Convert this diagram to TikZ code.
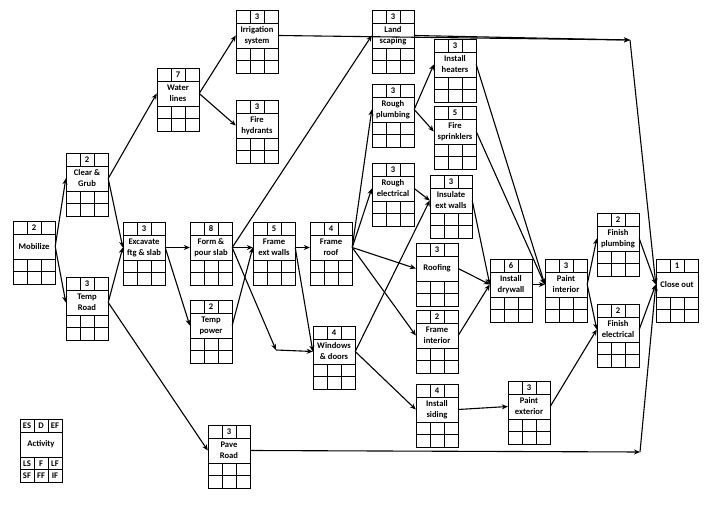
\documentclass[tikz,border=0pt]{standalone}
\usepackage{fontspec}
\setmainfont{Carlito}
\usetikzlibrary{arrows.meta}
\tikzset{x=1pt,y=-1pt,
 lab/.style={inner sep=0pt,minimum width=42pt,minimum height=25pt,align=center,font=\bfseries\fontsize{8.6}{11}\selectfont},
 cell/.style={font=\bfseries\fontsize{8.6}{10}\selectfont,inner sep=0pt},
 grid/.style={line width=0.9pt},
 con/.style={line width=1.1pt,-{Stealth[length=6pt,width=5pt]}},
 seg/.style={line width=1.1pt}}
\newcommand\actv[5]{%
 \draw[grid] (#2,#3) rectangle ++(42,63);
 \draw[grid] (#2,#3+13) -- ++(42,0) (#2,#3+38) -- ++(42,0) (#2,#3+50.5) -- ++(42,0);
 \draw[grid] (#2+14,#3) -- ++(0,13) (#2+28,#3) -- ++(0,13) (#2+14,#3+38) -- ++(0,25) (#2+28,#3+38) -- ++(0,25);
 \node[cell] at (#2+21,#3+6.5) {#4};
 \node[lab] (#1) at (#2+21,#3+25.5) {#5};}
\begin{document}
\begin{tikzpicture}
\useasboundingbox (0,0) rectangle (704,510);
\actv{mob}{13}{221}{2}{Mobilize}
\actv{clr}{66}{153}{2}{Clear \&\\Grub}
\actv{trd}{66}{277}{3}{Temp\\Road}
\actv{exc}{123}{222}{3}{Excavate\\ftg \& slab}
\actv{frm}{190}{222}{8}{Form \&\\pour slab}
\actv{tpw}{190}{300}{2}{Temp\\power}
\actv{wat}{157}{68}{7}{Water\\lines}
\actv{irr}{236}{10}{3}{Irrigation\\system}
\actv{hyd}{236}{100}{3}{Fire\\hydrants}
\actv{few}{253}{222}{5}{Frame\\ext walls}
\actv{frf}{310}{222}{4}{Frame\\roof}
\actv{win}{313}{326}{4}{Windows\\\& doors}
\actv{lnd}{372}{10}{3}{Land\\scaping}
\actv{rpl}{372}{84}{3}{Rough\\plumbing}
\actv{rel}{372}{163}{3}{Rough\\electrical}
\actv{hea}{434}{39}{3}{Install\\heaters}
\actv{spr}{434}{106}{5}{Fire\\sprinklers}
\actv{ins}{430}{175}{3}{Insulate\\ext walls}
\actv{rfg}{416}{243}{3}{Roofing}
\actv{fin}{416}{310}{2}{Frame\\interior}
\actv{sid}{416}{384}{4}{Install\\siding}
\actv{dry}{490}{259}{6}{Install\\drywall}
\actv{pin}{545}{259}{3}{Paint\\interior}
\actv{pex}{508}{381}{3}{Paint\\exterior}
\actv{fpl}{597}{213}{2}{Finish\\plumbing}
\actv{fel}{597}{304}{2}{Finish\\electrical}
\actv{clo}{656}{259}{1}{Close out}
\actv{pav}{208}{425}{3}{Pave\\Road}
% legend
\draw[grid] (20,419) rectangle ++(42,63);
\draw[grid] (20,432) -- ++(42,0) (20,457) -- ++(42,0) (20,469.5) -- ++(42,0);
\draw[grid] (34,419) -- ++(0,13) (48,419) -- ++(0,13) (34,457) -- ++(0,25) (48,457) -- ++(0,25);
\node[cell] (lES) at (27,425.5) {ES};\node[cell] (lD) at (41,425.5) {D};\node[cell] (lEF) at (55,425.5) {EF};
\node[lab] (lact) at (41,444.5) {Activity};
\node[cell] (lLS) at (27,463.5) {LS};\node[cell] (lF) at (41,463.5) {F};\node[cell] (lLF) at (55,463.5) {LF};
\node[cell] (lSF) at (27,476) {SF};\node[cell] (lFF) at (41,476) {FF};\node[cell] (lIF) at (55,476) {IF};
% junctions
\coordinate (j1) at (630,40);
\coordinate (j2) at (640,452);
\coordinate (j3) at (276,350);
% connectors
\draw[con] (mob.east) -- (clr.west);
\draw[con] (mob.east) -- (trd.west);
\draw[con] (clr.east) -- (wat.west);
\draw[con] (clr.east) -- (exc.west);
\draw[con] (trd.east) -- (exc.west);
\draw[con] (trd.east) -- (pav.west);
\draw[con] (exc.east) -- (frm.west);
\draw[con] (exc.east) -- (tpw.west);
\draw[con] (wat.east) -- (irr.west);
\draw[con] (wat.east) -- (hyd.west);
\draw[con] (irr.east) -- (j1);
\draw[con] (lnd.east) -- (j1);
\draw[con] (j1) -- (clo.west);
\draw[con] (pav.east) -- (j2);
\draw[con] (j2) -- (clo.west);
\draw[con] (frm.east) -- (lnd.west);
\draw[con] (frm.east) -- (few.west);
\draw[con] (frm.east) -- (j3);
\draw[con] (j3) -- (win.west);
\draw[con] (tpw.east) -- (few.west);
\draw[con] (few.east) -- (frf.west);
\draw[con] (few.east) -- (win.west);
\draw[con] (frf.east) -- (rpl.west);
\draw[con] (frf.east) -- (rel.west);
\draw[con] (frf.east) -- (rfg.west);
\draw[con] (frf.east) -- (fin.west);
\draw[con] (win.east) -- (ins.west);
\draw[con] (win.east) -- (sid.west);
\draw[con] (rpl.east) -- (hea.west);
\draw[con] (rpl.east) -- (spr.west);
\draw[con] (rel.east) -- (ins.west);
\draw[con] (hea.east) -- (pin.west);
\draw[con] (spr.east) -- (pin.west);
\draw[con] (ins.east) -- (dry.west);
\draw[con] (rfg.east) -- (dry.west);
\draw[con] (fin.east) -- (dry.west);
\draw[con] (dry.east) -- (pin.west);
\draw[con] (pin.east) -- (fpl.west);
\draw[con] (pin.east) -- (fel.west);
\draw[con] (sid.east) -- (pex.west);
\draw[con] (pex.east) -- (fel.west);
\draw[con] (fpl.east) -- (clo.west);
\draw[con] (fel.east) -- (clo.west);
\end{tikzpicture}
\end{document}
